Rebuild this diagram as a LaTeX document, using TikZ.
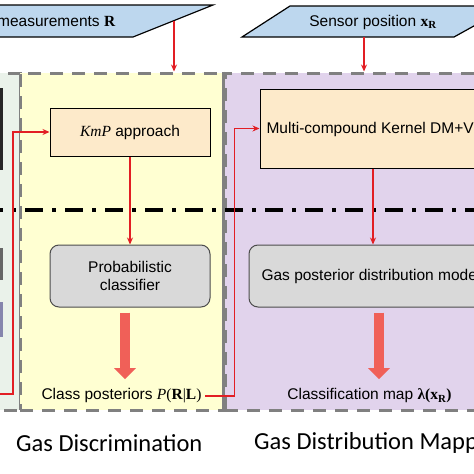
\documentclass[tikz,border=0pt]{standalone}
\usepackage{fontspec}
\setmainfont{Liberation Sans}
\newfontfamily\serifmath{Liberation Serif}
\newfontfamily\calibri{Carlito}
\usetikzlibrary{positioning,arrows.meta,calc}
\definecolor{paraBlue}{RGB}{189,215,238}
\definecolor{discYellow}{RGB}{255,255,210}
\definecolor{mapPurple}{RGB}{225,211,236}
\definecolor{leftGreen}{RGB}{234,242,234}
\definecolor{procOrange}{RGB}{253,234,202}
\definecolor{boxGrey}{RGB}{217,217,217}
\definecolor{linkRed}{RGB}{226,30,36}
\definecolor{fatRed}{RGB}{240,96,88}
\definecolor{borderGrey}{RGB}{128,128,128}

\newcommand{\vb}[1]{{\serifmath\bfseries #1}}
\newcommand{\vi}[1]{{\serifmath\itshape #1}}

\begin{document}
\begin{tikzpicture}[x=1pt,y=-1pt,
    every node/.style={font=\fontsize{15.5}{18}\selectfont},
    region/.style={draw=borderGrey, line width=3pt, dash pattern=on 13pt off 9pt, inner sep=0pt},
    proc/.style={draw, line width=1pt, fill=procOrange, inner sep=0pt},
    model/.style={draw=black!70, line width=1pt, fill=boxGrey, rounded corners=9pt, inner sep=0pt, align=center},
    link/.style={linkRed, line width=1.3pt, -{Stealth[length=7pt,width=6pt]}},
    fat/.style={fatRed, line width=10pt, -{Triangle[length=11pt,width=21pt]}},
    caption/.style={font=\calibri\fontsize{24.5}{28}\selectfont, inner sep=0pt}]
  \useasboundingbox (0,0) rectangle (474,474);
  \clip (0,0) rectangle (474,474);

  % panels
  \node[region, fill=leftGreen, minimum width=60pt, minimum height=337pt] (left) at (-10,241.5) {};
  \fill[black!85] (-5,88) rectangle (3,170);
  \fill[black!60] (-5,248) rectangle (3,280);
  \fill[blue!20!gray!80] (-5,302) rectangle (3,337);
  \node[region, fill=discYellow, minimum width=205pt, minimum height=337pt] (disc) at (122.5,241.5) {};
  \node[region, fill=mapPurple, minimum width=275pt, minimum height=337pt] (map) at (362.5,241.5) {};
  \draw[borderGrey, line width=3pt] (map.north west) -- (map.south west);

  % inputs
  \draw[fill=paraBlue, line width=1.2pt] (-10,5) -- (213,5) -- (133,37) -- (-10,37) -- cycle;
  \node[anchor=west, inner sep=0pt] (meas) at (-3,22) {measurements \vb{R}};
  \draw[fill=paraBlue, line width=1.2pt] (242,37) -- (290,6) -- (510,6) -- (454,37) -- cycle;
  \node (pos) at (373,22) {Sensor position {\serifmath\bfseries x\textsubscript{R}}};
  \coordinate (measout) at (174,21);
  \coordinate (posout) at (364,37);

  \draw[dash pattern=on 18pt off 9pt on 4pt off 9pt, dash phase=10pt, line width=4pt] (-5,210) -- (480,210);

  % processing
  \node[proc, minimum width=160pt, minimum height=48pt] (kmp) at (130,132) {\vi{KmP} approach};
  \node[proc, minimum width=260pt, minimum height=79pt] (mck) at (390,128.5) {};
  \node[anchor=west] (mcktext) at (263,129) {Multi-compound Kernel DM+V};
  \node[model, minimum width=160pt, minimum height=62pt] (prob) at (130,276) {Probabilistic\\classifier};
  \node[model, minimum width=260pt, minimum height=62pt] (gpd) at (379,276) {};
  \node[anchor=west] (gpdtext) at (258,276) {Gas posterior distribution model};

  % outputs
  \node (cpost) at (121.5,396) {Class posteriors {\serifmath\textit{P}(\textbf{R}|\textbf{L})}};
  \node (cmap) at (369.5,396) {Classification map {\serifmath\bfseries λ(x\textsubscript{R})}};
  \coordinate (leftout) at (-5,394);

  \node[caption, anchor=west] (disccap) at (16,443) {Gas Discrimination};
  \node[caption, anchor=west] (mapcap) at (254,443) {Gas Distribution Mapping};

  % links
  \draw[link] (measout) -- (measout |- disc.north);
  \draw[link] (posout) -- (posout |- map.north);
  \draw[link] (kmp) -- (prob);
  \draw[link] ([xshift=-17pt]mck.south) -- ([xshift=-6pt]gpd.north);
  \draw[link] (leftout) -- (13,394) |- (kmp.west);
  \draw[link] (cpost.east) -| ([xshift=-25pt]mck.west) -- (mck.west);
  \draw[fat, shorten <=5pt, shorten >=6pt] ([xshift=-5pt]prob.south) -- ([xshift=-5pt]prob.south |- cpost.north);
  \draw[fat, shorten <=5pt, shorten >=6pt] (gpd.south) -- (gpd.south |- cmap.north);
\end{tikzpicture}
\end{document}
